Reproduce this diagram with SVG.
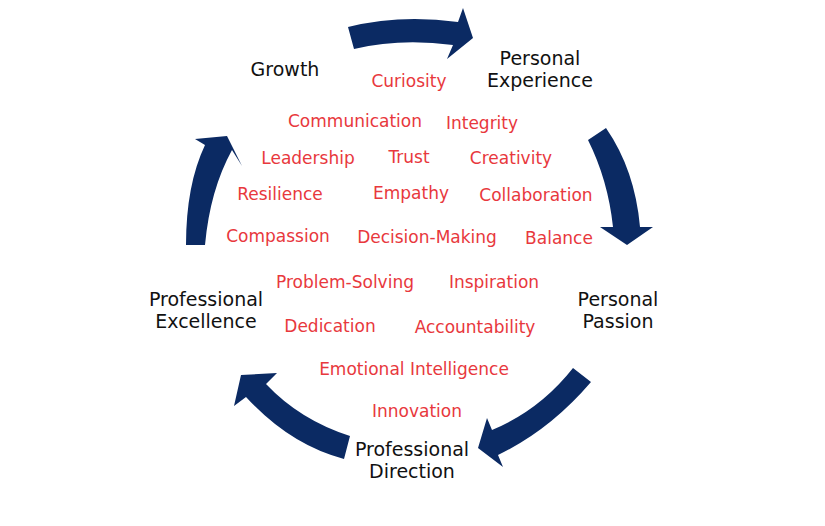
<svg xmlns="http://www.w3.org/2000/svg" width="825" height="526" viewBox="0 0 825 526">
<style>
text{font-family:"DejaVu Sans","Liberation Sans",sans-serif;text-anchor:middle}
.n{font-size:19px;fill:#111}
.r{font-size:17px;fill:#E8383D}
.a{fill:#0B2A63}
</style>
<rect width="825" height="526" fill="#fff"/>
<g id="connectors">
<path class="a" d="M348,27 Q400,14 458,22 L463,8 L473,38 L447,59 L453,45 Q400,38 354,49 Z"/>
<path class="a" d="M588,140 L606,128 Q635,170 640,227 L653,227 L627,245 L600,227 L613,227 Q608,180 588,140 Z"/>
<path class="a" d="M573,368 L591,382 Q550,430 498,455 L503,467 L478,448 L487,418 L492,430 Q540,410 573,368 Z"/>
<path class="a" d="M350,436 Q300,420 266,384 L277,373 L241,375 L234,406 L246,397 Q290,445 344,459 Z"/>
<path class="a" d="M186,245 Q186,185 205,145 L195,139 L227,136 L242,166 L232,150 Q210,190 205,245 Z"/>
</g>
<g id="growth"><text class="n" x="285" y="76">Growth</text></g>
<g id="personal-experience"><text class="n" x="540" y="65">Personal</text><text class="n" x="540" y="87">Experience</text></g>
<g id="personal-passion"><text class="n" x="618" y="306">Personal</text><text class="n" x="618" y="328">Passion</text></g>
<g id="professional-direction"><text class="n" x="412" y="456">Professional</text><text class="n" x="412" y="478">Direction</text></g>
<g id="professional-excellence"><text class="n" x="206" y="306">Professional</text><text class="n" x="206" y="328">Excellence</text></g>
<g id="values">
<text class="r" x="409" y="87">Curiosity</text>
<text class="r" x="355" y="127">Communication</text>
<text class="r" x="482" y="129">Integrity</text>
<text class="r" x="308" y="164">Leadership</text>
<text class="r" x="409" y="163">Trust</text>
<text class="r" x="511" y="164">Creativity</text>
<text class="r" x="280" y="200">Resilience</text>
<text class="r" x="411" y="199">Empathy</text>
<text class="r" x="536" y="201">Collaboration</text>
<text class="r" x="278" y="242">Compassion</text>
<text class="r" x="427" y="243">Decision-Making</text>
<text class="r" x="559" y="244">Balance</text>
<text class="r" x="345" y="288">Problem-Solving</text>
<text class="r" x="494" y="288">Inspiration</text>
<text class="r" x="330" y="332">Dedication</text>
<text class="r" x="475" y="333">Accountability</text>
<text class="r" x="414" y="375">Emotional Intelligence</text>
<text class="r" x="417" y="417">Innovation</text>
</g>
</svg>
